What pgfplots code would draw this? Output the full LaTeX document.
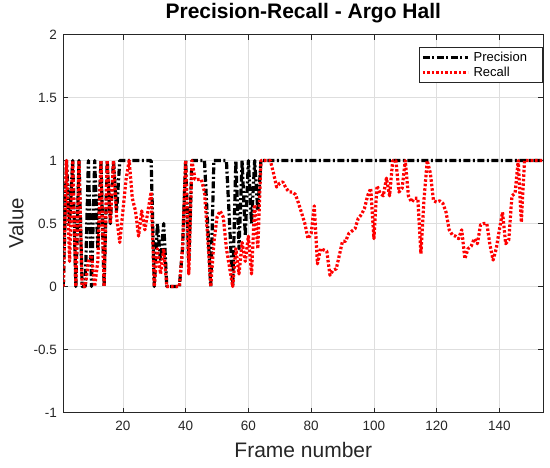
\documentclass[border=0pt]{standalone}
\usepackage{pgfplots}
\pgfplotsset{compat=1.18}
\usepackage{fontspec}
\setmainfont{Liberation Sans}
\definecolor{axgray}{gray}{0.15}
\definecolor{gridgray}{gray}{0.87}
\begin{document}
\begin{tikzpicture}
\begin{axis}[
  name=ax,
  scale only axis,
  width=480bp, height=378bp,
  xmin=1, xmax=154, ymin=-1, ymax=2,
  xtick={20,40,...,140},
  ytick={-1,-0.5,0,0.5,1,1.5,2},
  yticklabels={-1,-0.5,0,0.5,1,1.5,2},
  /pgf/number format/assume math mode=true,
  tick align=inside,
  major tick length=5bp,
  axis line style={axgray, line width=0.6bp},
  tick style={axgray, line width=0.6bp},
  grid=major,
  grid style={gridgray, line width=0.6bp},
  ticklabel style={font=\fontsize{13.5bp}{16bp}\selectfont, text=axgray},
  xticklabel style={yshift=-5bp},
  yticklabel style={xshift=-3bp},
  title={Precision-Recall - Argo Hall},
  title style={font=\bfseries\fontsize{21bp}{24bp}\selectfont, at={(axis description cs:0.5,1.0265)}, anchor=base},
  xlabel={Frame number},
  ylabel={Value},
  xlabel style={font=\fontsize{21bp}{24bp}\selectfont, text=axgray, at={(axis description cs:0.5,-0.119)}, anchor=base},
  ylabel style={font=\fontsize{20.5bp}{24bp}\selectfont, text=axgray, at={(axis description cs:-0.083,0.5)}, anchor=base},
  legend style={at={(axis description cs:0.998,0.968)}, anchor=north east,
    font=\fontsize{13bp}{16bp}\selectfont, draw=axgray, line width=0.6bp,
    row sep=0bp, inner xsep=2bp, inner ysep=3bp},
  legend cell align=left,
  legend image code/.code={\draw[#1] (0bp,0bp) -- (45bp,0bp);},
]
\addplot[black, line width=3.2bp, line join=round, dash pattern=on 7bp off 2.5bp on 2bp off 2.5bp] coordinates {
(1,0)(2,1)(3,0.5)(4,1)(5,0)(6,1)(7,0)(8,0)(9,1)(10,0)(11,1)(12,0.3)(13,1)(14,0)(15,1)(16,0.5)(17,1)(18,0.6)(19,1)(20,1)
(21,1)(22,1)(23,1)(24,1)(25,1)(26,1)(27,1)(28,1)(29,1)(30,0)(31,0.5)(32,0.2)(33,0.5)(34,0)(35,0)(36,0)(37,0)(38,0)(39,0.3)(40,1)
(41,0.2)(42,1)(43,1)(44,1)(45,1)(46,1)(47,0.5)(48,0)(49,1)(50,1)(51,1)(52,1)(53,1)(54,0.5)(55,0)(56,1)(57,0.3)(58,1)(59,0.4)(60,1)
(61,0.5)(62,1)(63,0.6)(64,1)(80,1)(100,1)(120,1)(140,1)(154,1)
};
\addlegendentry{\hspace*{2bp}Precision\hspace*{11bp}}
\addplot[red, line width=3.2bp, line join=round, dash pattern=on 2.5bp off 2bp] coordinates {
(1,0)(2,1)(3,0.2)(4,1)(5,0)(6,1)(7,0)(8,0)(9,0.2)(10,0.25)(11,0)(12,0.2)(13,1)(14,0)(15,1)(16,0.5)(17,1)(18,0.55)(19,0.35)(20,0.6)
(21,0.85)(22,1)(23,0.7)(24,0.6)(25,0.4)(26,0.6)(27,0.45)(28,0.6)(29,0.75)(30,0)(31,0.3)(32,0.1)(33,0.3)(34,0)(35,0)(36,0)(37,0)(38,0)(39,0.3)(40,1)
(41,0.1)(42,1)(43,0.85)(44,0.85)(45,0.85)(46,0.75)(47,0.4)(48,0)(49,0.35)(50,0.55)(51,0.6)(52,0.55)(53,0.3)(54,0.15)(55,0)(56,0.3)(57,0.1)(58,0.35)(59,0.2)(60,0.4)
(61,0.1)(62,0.65)(63,0.3)(64,1)(65,1)(66,1)(67,1)(68,0.9)(69,0.79)(70,0.82)(71,0.83)(72,0.78)(73,0.75)(74,0.75)(75,0.73)(76,0.66)(77,0.58)(78,0.5)(79,0.38)(80,0.42)
(81,0.64)(82,0.18)(83,0.3)(84,0.29)(85,0.28)(86,0.09)(87,0.13)(88,0.14)(89,0.25)(90,0.36)(91,0.36)(92,0.42)(93,0.44)(94,0.46)(95,0.54)(96,0.57)(97,0.62)(98,0.72)(99,0.78)(100,0.38)
(101,0.8)(102,0.74)(103,0.72)(104,0.86)(105,0.72)(106,1)(107,1)(108,0.75)(109,0.78)(110,1)(111,0.72)(112,0.67)(113,0.7)(114,0.7)(115,0.26)(116,0.7)(117,1)(118,0.9)(119,0.68)(120,0.67)
(121,0.68)(122,0.66)(123,0.59)(124,0.45)(125,0.41)(126,0.4)(127,0.38)(128,0.45)(129,0.22)(130,0.3)(131,0.32)(132,0.38)(133,0.34)(134,0.49)(135,0.5)(136,0.5)(137,0.33)(138,0.21)(139,0.3)(140,0.45)
(141,0.59)(142,0.34)(143,0.37)(144,0.72)(145,0.74)(146,1)(147,0.51)(148,1)(149,1)(150,1)(151,1)(152,1)(153,1)(154,1)
};
\addlegendentry{\hspace*{2bp}Recall}
\end{axis}
\path ([xshift=-63.3bp,yshift=-55bp]ax.south west) rectangle ([xshift=6.7bp,yshift=30bp]ax.north east);
\end{tikzpicture}
\end{document}
